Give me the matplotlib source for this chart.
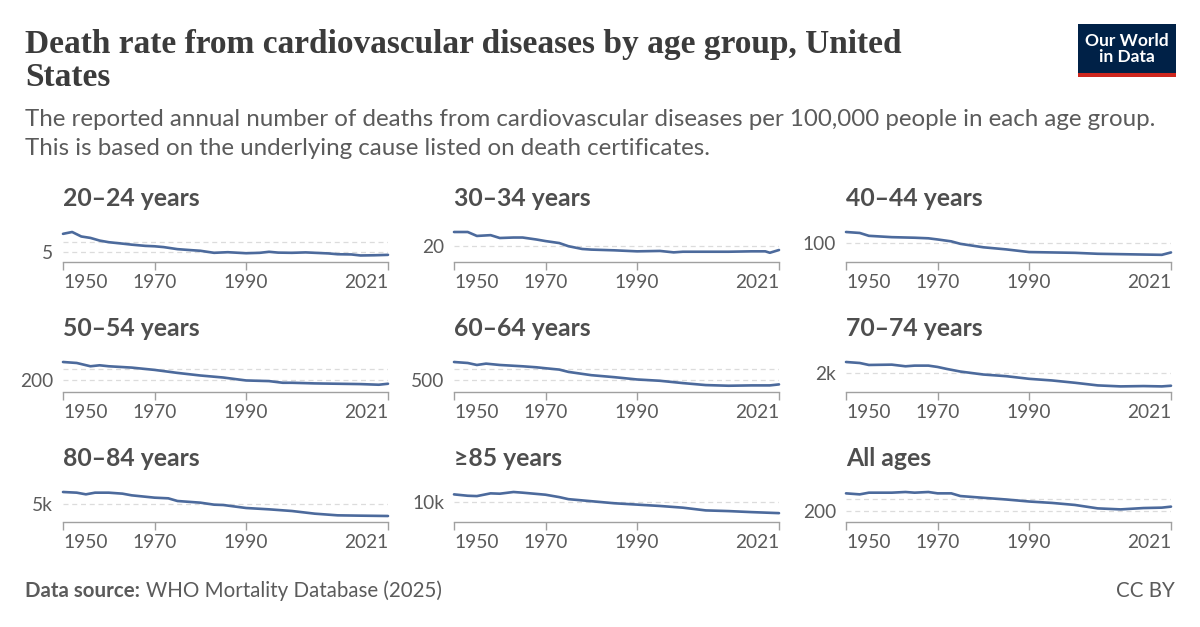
import matplotlib
matplotlib.use("Agg")
import matplotlib.pyplot as plt
from matplotlib.patches import Rectangle

W, H = 1200, 627
BLUE = "#4c6a9c"
GREY = "#5b5b5b"
DARK = "#4e4e4e"

# ── data ─────────────────────────────────────────────────────────────────────
panel_titles = ["20–24 years", "30–34 years", "40–44 years",
                "50–54 years", "60–64 years", "70–74 years",
                "80–84 years", "≥85 years", "All ages"]

years_2024 = [1950, 1952, 1954, 1956, 1958, 1960, 1963, 1965, 1968, 1970, 1972,
              1975, 1978, 1980, 1983, 1986, 1990, 1993, 1995, 1997, 2000, 2003,
              2005, 2008, 2010, 2013, 2015, 2018, 2021]
rate_2024 = [13.8, 14.7, 12.5, 11.8, 10.5, 9.7, 9.0, 8.5, 7.9, 7.7, 7.3,
             6.3, 5.8, 5.5, 4.5, 4.8, 4.3, 4.5, 5.0, 4.6, 4.5, 4.7,
             4.5, 4.2, 3.8, 3.7, 3.2, 3.3, 3.5]

years_3034 = [1950, 1953, 1955, 1958, 1960, 1963, 1965, 1968, 1970, 1973, 1975,
              1978, 1980, 1985, 1990, 1995, 1998, 2000, 2005, 2010, 2015, 2018,
              2019, 2021]
rate_3034 = [38, 38, 33, 34, 30.4, 31, 31, 28.5, 26.5, 24, 20,
             16.5, 15.7, 14.8, 13.5, 14, 12.2, 13, 13, 13, 13.5, 13.5,
             11.7, 15.2]

years_4044 = [1950, 1953, 1955, 1960, 1965, 1968, 1970, 1973, 1975, 1980, 1985,
              1990, 1995, 2000, 2005, 2010, 2015, 2019, 2021]
rate_4044 = [157, 152, 137, 130, 127, 124, 118, 108, 95, 77, 66,
             52, 50, 48, 43, 41, 39, 37.5, 50]

years_5054 = [1950, 1953, 1956, 1958, 1960, 1965, 1970, 1975, 1980, 1985, 1990,
              1995, 1998, 2000, 2005, 2010, 2015, 2019, 2021]
rate_5054 = [520, 503, 446, 463, 446, 423, 383, 331, 286, 251, 200,
             189, 160, 160, 149, 143, 137, 126, 143]

years_6064 = [1950, 1953, 1955, 1957, 1960, 1965, 1968, 1970, 1973, 1975, 1980,
              1985, 1990, 1995, 2000, 2005, 2010, 2015, 2019, 2021]
rate_6064 = [1300, 1257, 1171, 1229, 1171, 1114, 1071, 1029, 971, 871, 729,
             643, 543, 486, 386, 300, 271, 286, 286, 329]

years_7074 = [1950, 1953, 1955, 1960, 1963, 1965, 1968, 1970, 1972, 1975, 1980,
              1985, 1990, 1995, 2000, 2005, 2010, 2015, 2019, 2021]
rate_7074 = [3138, 3034, 2828, 2862, 2690, 2759, 2759, 2621, 2414, 2138, 1828,
             1655, 1379, 1207, 966, 690, 586, 621, 586, 655]

years_8084 = [1950, 1953, 1955, 1957, 1960, 1963, 1965, 1970, 1973, 1975, 1980,
              1983, 1985, 1990, 1995, 2000, 2005, 2010, 2015, 2021]
rate_8084 = [8490, 8300, 7830, 8300, 8300, 8020, 7547, 6887, 6700, 5943, 5472,
             4906, 4811, 3962, 3585, 3113, 2358, 1887, 1792, 1698]

years_85 = [1950, 1953, 1955, 1958, 1960, 1963, 1965, 1970, 1973, 1975, 1980,
            1985, 1990, 1995, 2000, 2005, 2010, 2015, 2021]
rate_85 = [13966, 13276, 13103, 14483, 14310, 15172, 14828, 13793, 12586, 11552, 10517,
           9483, 8793, 8103, 7241, 5862, 5517, 5000, 4483]

years_all = [1950, 1953, 1955, 1960, 1963, 1965, 1968, 1970, 1973, 1975, 1980,
             1985, 1990, 1995, 2000, 2005, 2010, 2015, 2019, 2021]
rate_all = [509, 491, 521, 521, 533, 521, 533, 509, 509, 461, 430,
            400, 364, 339, 303, 242, 224, 248, 255, 273]

# gridline values per panel, and which of them carries a label
grid_vals = [[5, 10], [20], [100], [200, 400], [500, 1000], [2000], [5000], [10000], [200, 400]]
grid_labels = ["5", "20", "100", "200", "500", "2k", "5k", "10k", "200"]

x_ticks = [1950, 1970, 1990, 2021]

series = [(years_2024, rate_2024), (years_3034, rate_3034), (years_4044, rate_4044),
          (years_5054, rate_5054), (years_6064, rate_6064), (years_7074, rate_7074),
          (years_8084, rate_8084), (years_85, rate_85), (years_all, rate_all)]

# ── layout ───────────────────────────────────────────────────────────────────
plt.rcParams["font.family"] = ["Lato", "DejaVu Sans"]
fig = plt.figure(figsize=(W / 100, H / 100), dpi=100)
fig.patch.set_facecolor("white")

COLS = [(63, 388), (454, 779), (846, 1171)]
ROW_BOTTOM = [262, 392, 522]
PANEL_H = 30

for i, (yrs, vals) in enumerate(series):
    r, c = divmod(i, 3)
    x0, x1 = COLS[c]
    yb = ROW_BOTTOM[r]
    ax = fig.add_axes([x0 / W, 1 - yb / H, (x1 - x0) / W, PANEL_H / H])
    ax.plot(yrs, vals, color=BLUE, lw=1.9, solid_capstyle="round", clip_on=False, zorder=3)
    ax.set_xlim(1950, 2021)
    ax.set_ylim(0, max(vals))
    for g in grid_vals[i]:
        ax.axhline(g, color="#dcdcdc", lw=0.9, ls=(0, (4, 3)), zorder=1)
    ax.set_yticks([grid_vals[i][0]])
    ax.set_yticklabels([grid_labels[i]])
    ax.tick_params(axis="y", length=0, pad=7, labelsize=13.8, labelcolor=GREY)
    ax.set_xticks(x_ticks)
    ax.set_xticklabels([str(t) for t in x_ticks])
    ax.tick_params(axis="x", length=6, width=1, color="#a0a0a0", pad=2.5,
                   labelsize=13.8, labelcolor=GREY)
    labs = ax.get_xticklabels()
    labs[0].set_ha("left")
    labs[-1].set_ha("right")
    for s in ("top", "right", "left"):
        ax.spines[s].set_visible(False)
    ax.spines["bottom"].set_color("#a0a0a0")
    ax.spines["bottom"].set_linewidth(1)
    ax.set_facecolor("none")
    fig.text(x0 / W, 1 - (yb - 64) / H, panel_titles[i], fontsize=17.8,
             fontweight="bold", color=DARK, ha="left", va="center")

# ── header ───────────────────────────────────────────────────────────────────
fig.text(25 / W, 1 - 44 / H, "Death rate from cardiovascular diseases by age group, United",
         fontsize=24, family=["Liberation Serif", "DejaVu Serif"], fontweight="bold",
         color="#3b3b3b", ha="left", va="center")
fig.text(25 / W, 1 - 77 / H, "States",
         fontsize=24, family=["Liberation Serif", "DejaVu Serif"], fontweight="bold",
         color="#3b3b3b", ha="left", va="center")
fig.text(25 / W, 1 - 119 / H,
         "The reported annual number of deaths from cardiovascular diseases per 100,000 people in each age group.",
         fontsize=17.4, color=GREY, ha="left", va="center")
fig.text(25 / W, 1 - 148 / H,
         "This is based on the underlying cause listed on death certificates.",
         fontsize=17.4, color=GREY, ha="left", va="center")

# logo
fig.patches.append(Rectangle((1078 / W, 1 - 77 / H), 98 / W, 53 / H,
                             transform=fig.transFigure, fc="#002147", ec="none"))
fig.patches.append(Rectangle((1078 / W, 1 - 77 / H), 98 / W, 4 / H,
                             transform=fig.transFigure, fc="#ce261e", ec="none"))
fig.text(1127 / W, 1 - 49 / H, "Our World\nin Data", fontsize=12.5, color="white",
         ha="center", va="center", linespacing=1.0, fontweight="bold")

# ── footer ───────────────────────────────────────────────────────────────────
t1 = fig.text(25 / W, 1 - 591 / H, "Data source:", fontsize=14.8, fontweight="bold",
              color=GREY, ha="left", va="center")
renderer = fig.canvas.get_renderer()
bb = t1.get_window_extent(renderer=renderer)
fig.text((bb.x1 + 6) / W, 1 - 591 / H, "WHO Mortality Database (2025)", fontsize=14.8,
         color=GREY, ha="left", va="center")
fig.text(1175 / W, 1 - 591 / H, "CC BY", fontsize=14.8, color=GREY, ha="right", va="center")

fig.savefig("out.png", dpi=100, facecolor="white")
